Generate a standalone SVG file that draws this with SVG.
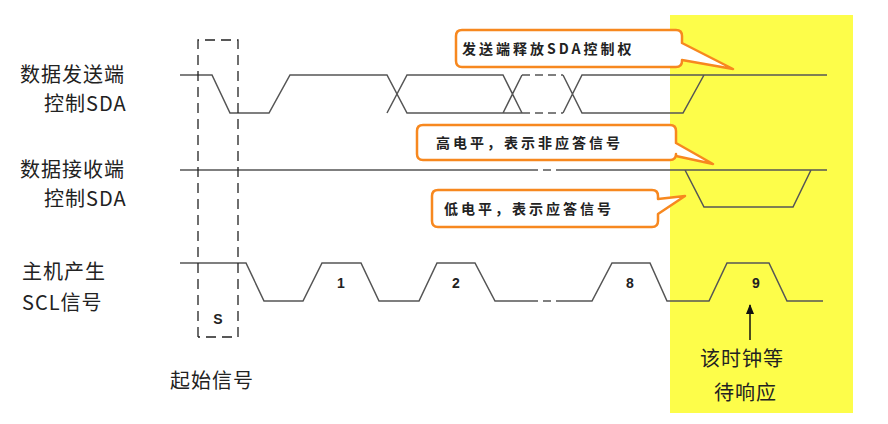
<svg xmlns="http://www.w3.org/2000/svg" width="888" height="424" viewBox="0 0 888 424">
<style>
.w{fill:none;stroke:#555;stroke-width:1.5}
.d{fill:none;stroke:#555;stroke-width:1.5;stroke-dasharray:8,5}
.b{fill:none;stroke:#222;stroke-width:1.3;stroke-dasharray:10,6}
.lb{font-family:"Noto Sans CJK SC",sans-serif;font-size:20px;fill:#222;letter-spacing:1px}
.co{fill:#fff;stroke:#f7881f;stroke-width:2.5;stroke-linejoin:round}
.ct{font-family:"Noto Sans CJK SC",sans-serif;font-size:14px;font-weight:bold;fill:#222;letter-spacing:3px}
.n{font-family:"Liberation Sans",sans-serif;font-size:14px;font-weight:bold;fill:#222;text-anchor:middle}
</style>
<defs><marker id="ar" markerWidth="10" markerHeight="8" refX="9" refY="4" orient="auto" markerUnits="userSpaceOnUse"><path d="M0,0 L10,4 L0,8 Z" fill="#111"/></marker></defs>
<rect x="670" y="15" width="183" height="398" fill="#fdfd4a"/>
<g id="connectors">
<path class="w" d="M180,75 H212 L230,113 H269 L290,75 H387 L407,113 H503 L522,75 M503,113 L522,113 M387,113 L407,75 H503 L522,113"/>
<path class="d" d="M522,75 H563 M522,113 H563"/>
<path class="w" d="M563,75 L582,113 H683 L704,75 M563,113 L582,75 H827"/>
<path class="w" d="M180,170 H530 M562,170 H827 M685,170 L704,207 H793 L811,170"/>
<path class="d" d="M530,170 H562"/>
<path class="w" d="M180,263 H246 L264,301 H303 L322,263 H361 L379,301 H419 L437,263 H475 L495,301 H530 M557,301 H592 L612,263 H650 L667,301 H709 L727,263 H769 L787,301 H823"/>
<path class="d" d="M530,301 H557"/>
<path class="b" d="M198,337 V40 H238 V337 H198"/>
<line x1="750" y1="340" x2="750" y2="305" stroke="#111" stroke-width="1.5" marker-end="url(#ar)"/>
</g>
<g id="labels">
<text class="lb" x="20" y="82">数据发送端</text>
<text class="lb" x="44" y="111">控制SDA</text>
<text class="lb" x="20" y="177">数据接收端</text>
<text class="lb" x="44" y="206">控制SDA</text>
<text class="lb" x="22" y="279">主机产生</text>
<text class="lb" x="22" y="310">SCL信号</text>
<text class="lb" x="170" y="388">起始信号</text>
<text class="lb" x="700" y="366">该时钟等</text>
<text class="lb" x="714" y="400">待响应</text>
<text class="n" x="218" y="324">S</text>
<text class="n" x="341" y="288">1</text>
<text class="n" x="456" y="288">2</text>
<text class="n" x="630" y="288">8</text>
<text class="n" x="756" y="288">9</text>
</g>
<g id="callout1">
<path class="co" d="M462,30 H676 Q682,30 682,36 V43 L733,69 L682,60 V61 Q682,67 676,67 H462 Q456,67 456,61 V36 Q456,30 462,30 Z"/>
<text class="ct" x="462" y="54">发送端释放SDA控制权</text>
</g>
<g id="callout2">
<path class="co" d="M423,125 H670 Q676,125 676,131 V143 L713,164 L676,156 V154 Q676,160 670,160 H423 Q417,160 417,154 V131 Q417,125 423,125 Z"/>
<text class="ct" x="436" y="148">高电平，表示非应答信号</text>
</g>
<g id="callout3">
<path class="co" d="M438,190 H652 Q658,190 658,196 V199 L685,196 L658,214 V221 Q658,227 652,227 H438 Q432,227 432,221 V196 Q432,190 438,190 Z"/>
<text class="ct" x="444" y="214">低电平，表示应答信号</text>
</g>
</svg>
